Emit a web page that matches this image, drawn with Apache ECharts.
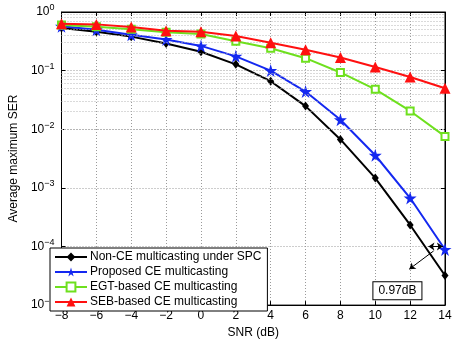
<!DOCTYPE html>
<html><head><meta charset="utf-8">
<script src="https://cdn.jsdelivr.net/npm/echarts@6/dist/echarts.min.js"></script>
<style>html,body{margin:0;padding:0;background:#fff}#c{width:474px;height:344px}</style>
</head><body><div id="c"></div>
<script>
const snr = [-8, -6, -4, -2, 0, 2, 4, 6, 8, 10, 12, 14];
const nonCE    = [0.535, 0.46, 0.38, 0.29, 0.21, 0.128, 0.066, 0.0248, 0.0067, 0.00147, 0.000233, 0.000032];
const proposed = [0.57, 0.50, 0.41, 0.34, 0.264, 0.175, 0.10, 0.044, 0.0145, 0.0036, 0.00067, 0.000089];
const egt      = [0.60, 0.56, 0.51, 0.45, 0.42, 0.316, 0.24, 0.163, 0.093, 0.048, 0.0205, 0.00755];
const seb      = [0.63, 0.615, 0.555, 0.48, 0.46, 0.39, 0.30, 0.227, 0.167, 0.115, 0.078, 0.050];
const names = ['Non-CE multicasting under SPC', 'Proposed CE multicasting', 'EGT-based CE multicasting', 'SEB-based CE multicasting'];
const xTicks = [-8, -6, -4, -2, 0, 2, 4, 6, 8, 10, 12, 14];

const minorVals = [];
for (let e = -5; e < 0; e++) for (let m = 2; m <= 9; m++) minorVals.push(m * Math.pow(10, e));

const font = 'Liberation Sans, Arial, Helvetica, sans-serif';
const star = 'path://M50,0 L61,35 L98,35 L68,57 L79,91 L50,70 L21,91 L32,57 L2,35 L39,35 Z';
const pair = a => snr.map((x, i) => [x, a[i]]);
const grayDot = {color: '#9a9a9a', type: [1, 2], width: 1};
const RED = '#ff1010', GREEN = '#6ee01e', BLUE = '#1428f0';

const chart = echarts.init(document.getElementById('c'), null, {renderer: 'canvas'});
chart.setOption({
  animation: false,
  textStyle: {fontFamily: font},
  grid: {left: 45, top: 12, width: 400, height: 299, show: true, borderColor: '#000', borderWidth: 1, backgroundColor: 'transparent'},
  legend: {
    orient: 'vertical', left: 50, top: 248, data: names, z: 20,
    backgroundColor: '#fff', borderColor: '#000', borderWidth: 1,
    padding: [3, 6, 3, 4], itemGap: 3, itemWidth: 32, itemHeight: 11,
    textStyle: {fontSize: 12, color: '#000', fontFamily: font, padding: [0, 0, 0, -2]}
  },
  xAxis: [{
    type: 'value', min: -8, max: 14, interval: 2,
    name: 'SNR (dB)', nameLocation: 'middle', nameGap: 21,
    nameTextStyle: {fontSize: 12, color: '#000'},
    axisLine: {onZero: false, lineStyle: {color: '#000'}},
    axisTick: {inside: true, length: 4, lineStyle: {color: '#000'}},
    axisLabel: {fontSize: 12, color: '#000', margin: 5, formatter: v => xTicks.includes(v) ? String(v).replace('-', '−') : ''},
    splitLine: {show: true, lineStyle: grayDot}
  }, {
    type: 'value', min: -8, max: 14, interval: 2, position: 'top',
    axisLine: {onZero: false, lineStyle: {color: '#000'}},
    axisTick: {inside: true, length: 4, lineStyle: {color: '#000'}},
    axisLabel: {show: false}, splitLine: {show: false}
  }],
  yAxis: [{
    type: 'log', logBase: 10, min: 1e-5, max: 1,
    name: 'Average maximum SER', nameLocation: 'middle', nameGap: 32,
    nameTextStyle: {fontSize: 12, color: '#000'},
    axisLine: {onZero: false, lineStyle: {color: '#000'}},
    axisTick: {inside: true, length: 4, lineStyle: {color: '#000'}},
    axisLabel: {
      color: '#000', margin: 7,
      formatter: v => { const e = Math.round(Math.log10(v)); return '{b|10}{s|' + (e < 0 ? '−' + (-e) : e) + '}'; },
      rich: {b: {fontSize: 12, color: '#000', fontFamily: font}, s: {fontSize: 9, color: '#000', fontFamily: font, padding: [0, 0, 8, 0]}}
    },
    splitLine: {show: true, lineStyle: grayDot}
  }, {
    type: 'log', logBase: 10, min: 1e-5, max: 1, position: 'right',
    axisLine: {onZero: false, lineStyle: {color: '#000'}},
    axisTick: {inside: true, length: 4, lineStyle: {color: '#000'}},
    axisLabel: {show: false}, splitLine: {show: false}
  }],
  series: [
    {type: 'line', name: '_minor', data: [], silent: true, legendHoverLink: false,
     markLine: {silent: true, symbol: 'none', label: {show: false}, lineStyle: {color: '#b4b4b4', type: [1, 2], width: 1},
       data: minorVals.map(v => ({yAxis: v}))}},
    {type: 'line', name: names[0], data: pair(nonCE), lineStyle: {width: 2, color: '#000'},
     symbol: 'diamond', symbolSize: [7, 9], itemStyle: {color: '#000'}, z: 3,
     markLine: {silent: true, label: {show: false}, lineStyle: {color: '#000', type: 'solid', width: 1},
       data: [
         [{coord: [13.05, 1.0e-4], symbol: 'arrow'}, {coord: [13.88, 1.0e-4], symbol: 'arrow'}],
         [{coord: [13.35, 8.4e-5], symbol: 'none'}, {coord: [11.95, 4.1e-5], symbol: 'arrow'}]
       ], symbolSize: 6},
     markPoint: {silent: true, symbol: 'rect', symbolSize: 1, itemStyle: {color: 'transparent'},
       data: [{coord: [11.27, 1.75e-5], label: {show: true, position: 'inside', formatter: '0.97dB', color: '#000', fontSize: 12,
         backgroundColor: '#fff', borderColor: '#000', borderWidth: 1, padding: [3, 5, 2, 5], fontFamily: font}}]}},
    {type: 'line', name: names[1], data: pair(proposed), lineStyle: {width: 2, color: BLUE},
     symbol: star, symbolSize: 13, itemStyle: {color: BLUE}, z: 4},
    {type: 'line', name: names[2], data: pair(egt), lineStyle: {width: 2, color: GREEN},
     symbol: 'emptyRect', symbolSize: 7, itemStyle: {color: GREEN, borderWidth: 1.5}, z: 5},
    {type: 'line', name: names[3], data: pair(seb), lineStyle: {width: 2, color: RED},
     symbol: 'triangle', symbolSize: 11, itemStyle: {color: RED}, z: 6}
  ]
});
</script></body></html>
